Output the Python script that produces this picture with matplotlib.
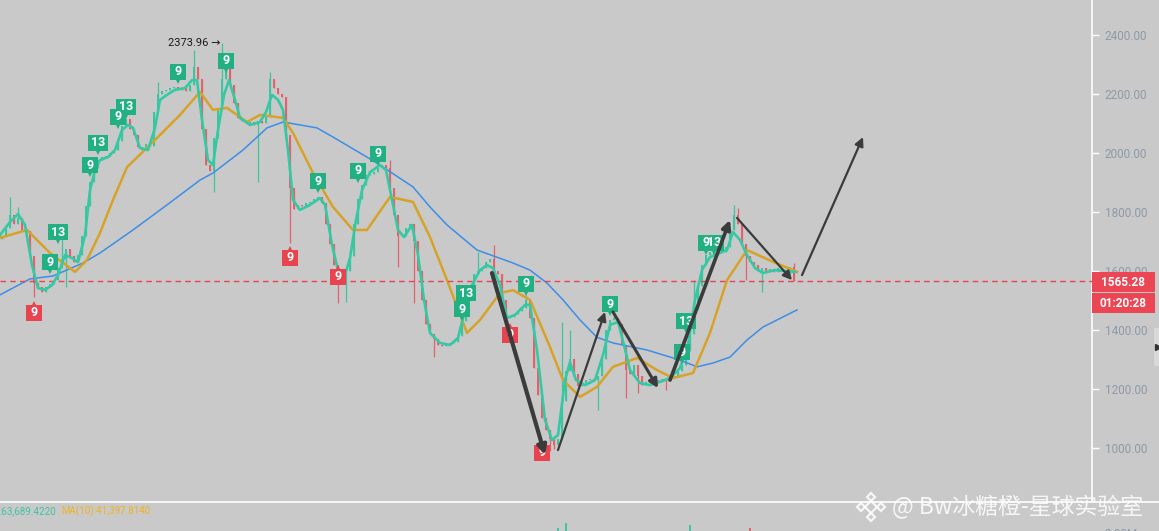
import matplotlib
matplotlib.use("Agg")
import matplotlib.pyplot as plt
from matplotlib import transforms
from matplotlib.patches import Rectangle
from matplotlib.path import Path

W, H = 1159, 531
BG = '#c9c9c9'
UP = '#3ec49e'
DOWN = '#e5606b'
BADGE_UP = '#22b083'
BADGE_DN = '#e8434f'

# ---- candle closes (open = previous close) ----
first_open = 1710
closes = [
    1720, 1745, 1790, 1760, 1780, 1740, 1735, 1650, 1560, 1545,
    1530, 1545, 1555, 1570, 1610, 1640, 1675, 1650, 1630, 1655,
    1720, 1820, 1900, 1950, 1975, 1985, 1990, 2000, 2010, 2040,
    2090, 2115, 2080, 2060, 2020, 2010, 2030, 2025, 2140, 2200,
    2210, 2215, 2220, 2225, 2215, 2220, 2210, 2230, 2290, 2250,
    2080, 1960, 1940, 2050, 2150, 2250, 2290, 2230, 2170, 2120,
    2110, 2100, 2105, 2095, 2110, 2100, 2130, 2250, 2220, 2200,
    2190, 2060, 1880, 1810, 1825, 1820, 1830, 1835, 1845, 1850,
    1830, 1760, 1690, 1620, 1590, 1570, 1600, 1650, 1760, 1845,
    1890, 1925, 1930, 1935, 1950, 1960, 1950, 1880, 1790, 1720,
    1720, 1745, 1760, 1700, 1600, 1500, 1420, 1385, 1370, 1350,
    1345, 1350, 1355, 1360, 1380, 1430, 1500, 1550, 1590, 1600,
    1610, 1630, 1640, 1600, 1590, 1500, 1440, 1445, 1455, 1465,
    1475, 1500, 1440, 1270, 1180, 1100, 1060, 1030, 1010, 1030,
    1160, 1260, 1300, 1250, 1210, 1220, 1230, 1235, 1230, 1245,
    1300, 1400, 1435, 1440, 1420, 1350, 1265, 1250, 1280, 1245,
    1215, 1225, 1220, 1230, 1225, 1235, 1230, 1240, 1245, 1260,
    1280, 1330, 1385, 1470, 1550, 1620, 1655, 1665, 1655, 1670,
    1665, 1680, 1740, 1790, 1760, 1690, 1650, 1630, 1620, 1600,
    1610, 1600, 1605, 1595, 1610, 1600, 1590, 1615, 1565.28,
]
# long wicks
wick_high = {2: 1850, 4: 1817, 15: 1728, 39: 2240, 48: 2349, 55: 2373.96,
             67: 2275, 97: 1976, 119: 1665, 123: 1688, 131: 1520, 140: 1428,
             142: 1400, 153: 1458, 173: 1569, 183: 1824, 184: 1813, 198: 1627}
wick_low = {8: 1512, 16: 1545, 53: 1868, 64: 1900, 72: 1695, 84: 1491,
            86: 1495, 99: 1613, 103: 1490, 108: 1310, 137: 990, 138: 995,
            149: 1130, 156: 1170, 159: 1185, 166: 1197, 186: 1569, 190: 1529}

# ---- moving averages (bar index, price) ----
ma_fast_x = [-0.5, 2, 4, 5.75, 7.5, 9, 10.75, 12.5, 14, 15.75,
             17.5, 19, 20.75, 22, 23.25, 24.5, 26.5, 28.25, 30, 31.5,
             32.75, 34.5, 36.5, 38.25, 39.5, 41.25, 43.25, 45.75, 47.5, 48.75,
             50, 51.5, 52.75, 54, 55.5, 56.75, 58.25, 59.5, 62, 64.5,
             66, 67.5, 69, 70.25, 71.5, 72.75, 74.5, 77, 79.5, 80.75,
             82.5, 84, 85.75, 87, 88.5, 90, 92, 94.5, 96, 97.5,
             99, 100.5, 102.5, 104, 105.5, 107, 109.5, 112, 114, 115.75,
             117.5, 119.5, 121.25, 122.75, 124.5, 126.25, 128.25, 130.75, 132, 133.75,
             135.75, 137.5, 139, 140.75, 142, 143.5, 145.75, 148.25, 150.25, 152,
             154, 155.5, 157, 159.5, 162, 164.5, 167, 169.5, 171.5, 173.25,
             175, 177, 179.5, 181.25, 182.75, 184.5, 186.25, 188.25, 190.25, 193.25,
             195.75, 198.25]
ma_fast = [1722, 1766, 1793, 1756, 1620, 1542, 1536, 1552, 1586, 1654,
           1644, 1630, 1720, 1874, 1942, 1976, 1986, 2010, 2078, 2095,
           2085, 2017, 2010, 2085, 2180, 2197, 2214, 2220, 2247, 2247,
           2112, 1976, 1959, 2078, 2197, 2247, 2180, 2119, 2095, 2105,
           2139, 2197, 2180, 2146, 2010, 1841, 1807, 1824, 1847, 1824,
           1688, 1603, 1586, 1644, 1773, 1874, 1935, 1959, 1942, 1841,
           1739, 1715, 1756, 1654, 1502, 1390, 1356, 1349, 1373, 1468,
           1552, 1603, 1620, 1610, 1552, 1441, 1451, 1485, 1485, 1332,
           1095, 1027, 1044, 1230, 1291, 1230, 1213, 1230, 1315, 1417,
           1427, 1349, 1264, 1220, 1213, 1224, 1237, 1271, 1349, 1502,
           1603, 1647, 1661, 1671, 1732, 1705, 1654, 1610, 1593, 1603,
           1600, 1597]

ma_mid_x = [-0.5, 6.25, 12, 18.25, 21.25, 24.5, 27.75, 31.25, 37.5, 44.5,
            49.5, 52.75, 56.25, 61.25, 64.5, 70.25, 72.75, 77.75, 82.75, 87.75,
            91.25, 97, 102.75, 107, 111.25, 116.25, 119.5, 124.5, 127.75, 132,
            137, 140.25, 144.5, 148.75, 152.75, 158.75, 163.75, 167.75, 172.75, 177,
            181.25, 186.25, 192.75, 198.75]
ma_mid = [1712, 1739, 1661, 1597, 1637, 1729, 1841, 1952, 2034, 2129,
          2207, 2146, 2153, 2105, 2129, 2119, 2068, 1932, 1817, 1739,
          1739, 1851, 1834, 1715, 1569, 1390, 1434, 1525, 1535, 1502,
          1342, 1230, 1173, 1207, 1275, 1305, 1264, 1237, 1254, 1390,
          1569, 1671, 1631, 1597]

ma_slow_x = [-0.5, 7, 12.75, 20.25, 24.5, 32.75, 41.25, 49.5, 52.75, 60.25,
             66.25, 70.25, 78.75, 82.75, 91.25, 94.5, 102.75, 107, 111.25, 118.75,
             127.75, 132, 136.25, 140.25, 144.5, 148.75, 152.75, 161.25, 169.5, 173.75,
             177.75, 182, 186.25, 190.25, 198.75]
ma_slow = [1519, 1573, 1583, 1627, 1661, 1739, 1824, 1908, 1932, 2010,
           2085, 2105, 2085, 2054, 1986, 1959, 1885, 1817, 1756, 1671,
           1627, 1603, 1559, 1502, 1434, 1375, 1356, 1332, 1298, 1275,
           1288, 1308, 1366, 1410, 1468]

# ---- TD count badges ----
badge_up_x = [12, 14, 22, 24, 29, 31, 44, 56, 79, 89, 94, 115, 116, 131, 152, 170, 171, 176, 178]
badge_up_y = [1630, 1732, 1959, 2034, 2122, 2156, 2275, 2312, 1905, 1939, 1997,
              1471, 1525, 1556, 1488, 1325, 1430, 1695, 1695]
badge_up_txt = ['9', '13', '9', '13', '9', '13', '9', '9', '9', '9', '9',
                '9', '13', '9', '9', '9', '13', '9', '13']
badge_dn_x = [8, 72, 84, 127, 135]
badge_dn_y = [1458, 1644, 1580, 1383, 983]
badge_dn_txt = ['9', '9', '9', '9', '9']

# ---- hand-drawn arrows ----
arrow_x0 = [122.5, 139, 152.75, 167, 183.75, 200]
arrow_y0 = [1593, 993, 1461, 1230, 1780, 1586]
arrow_x1 = [135.75, 150.75, 164, 182, 197.5, 215.25]
arrow_y1 = [976, 1461, 1203, 1773, 1569, 2054]
arrow_lw = [3.0, 1.6, 2.2, 2.6, 1.6, 1.6]

last_price = 1565.28
countdown = '01:20:28'
high_label = '2373.96'
yticks = [1000, 1200, 1400, 1600, 1800, 2000, 2200, 2400]

vol_x = [139, 141, 172, 187]
vol_m = [2.2, 2.36, 2.3, 2.2]

plt.rcParams['font.family'] = ['Roboto', 'DejaVu Sans']

fig = plt.figure(figsize=(W / 100, H / 100), dpi=100, facecolor=BG)
ax = fig.add_axes([0, 29 / H, 1092 / W, 502 / H], facecolor=BG)
ax.set_xlim(-0.5, 272.5)
ax.set_ylim(816.8, 2518.6)

opens = [first_open] + closes[:-1]
for i, (o, c) in enumerate(zip(opens, closes)):
    col = UP if c >= o else DOWN
    hi = wick_high.get(i, max(o, c))
    lo = wick_low.get(i, min(o, c))
    ax.vlines(i, lo, hi, color=col, lw=0.9, zorder=2)
    body = max(abs(c - o), 4)
    ax.bar(i, body, bottom=min(o, c), width=0.62, color=col, lw=0, zorder=2)

ax.plot(ma_slow_x, ma_slow, color='#3d8ee6', lw=1.1, zorder=3)
ax.plot(ma_mid_x, ma_mid, color='#d6a328', lw=1.8, zorder=3)
ax.plot(ma_fast_x, ma_fast, color='#34c9a4', lw=1.9, zorder=4)

ax.axhline(last_price, color='#e8434f', lw=1, ls=(0, (4, 3)), zorder=3)

# badges
wide = Path([(-1.2, -1), (1.2, -1), (1.2, 1), (-1.2, 1), (-1.2, -1)])


def badge(i, p, txt, col, below):
    shape, ms = ('s', 11.5) if len(txt) == 1 else (wide, 14)
    ax.plot(i, p, marker=shape, ms=ms, color=col, mew=0, zorder=7)
    off = transforms.offset_copy(ax.transData, fig=fig, y=(9 if below else -9), units='dots')
    ax.plot(i, p, marker=('^' if below else 'v'), ms=5, color=col, mew=0,
            transform=off, zorder=7)
    ax.text(i, p, txt, color='white', fontsize=9, fontweight='bold',
            ha='center', va='center', zorder=8)


for i, p, t in zip(badge_up_x, badge_up_y, badge_up_txt):
    badge(i, p, t, BADGE_UP, False)
for i, p, t in zip(badge_dn_x, badge_dn_y, badge_dn_txt):
    badge(i, p, t, BADGE_DN, True)

for x0, y0, x1, y1, lw in zip(arrow_x0, arrow_y0, arrow_x1, arrow_y1, arrow_lw):
    ax.annotate('', xy=(x1, y1), xytext=(x0, y0),
                arrowprops=dict(arrowstyle='-|>', color='#3b3b3b', lw=lw,
                                mutation_scale=13, shrinkA=0, shrinkB=0),
                zorder=9)

ax.text(54.5, 2373.96, high_label + ' \u2192', fontsize=8, color='#1a1a1a',
        ha='right', va='center', zorder=6)

ax.yaxis.tick_right()
ax.set_yticks(yticks)
ax.set_yticklabels([f'{v:.2f}' for v in yticks])
ax.tick_params(axis='y', color='white', labelcolor='#8e9aa6', length=5,
               width=1, pad=4, labelsize=8.5)
ax.set_xticks([])
for s in ['left', 'top', 'bottom']:
    ax.spines[s].set_visible(False)
ax.spines['right'].set_color('white')
ax.spines['right'].set_linewidth(1.2)

# volume panel (only the top is visible)
axv = fig.add_axes([0, (H - 600) / H, 1092 / W, 98 / H], facecolor='none')
axv.set_xlim(-0.5, 272.5)
axv.set_ylim(0, 3)
vcols = [UP if closes[i] >= opens[i] else DOWN for i in vol_x]
axv.bar(vol_x, vol_m, width=0.62, color=vcols, lw=0)
axv.axis('off')

# overlay in pixel coordinates
ov = fig.add_axes([0, 0, 1, 1], facecolor='none')
ov.set_xlim(0, W)
ov.set_ylim(H, 0)
ov.axis('off')
ov.axhline(502, color='white', lw=1.2)
ov.add_patch(Rectangle((1092, 272), 63, 20, color='#ec4655', lw=0))
ov.add_patch(Rectangle((1092, 293), 63, 20, color='#ec4655', lw=0))
ov.text(1123, 282.5, f'{last_price:.2f}', color='white', fontsize=8.5,
        fontweight='bold', ha='center', va='center')
ov.text(1123, 303.5, countdown, color='white', fontsize=8.5,
        fontweight='bold', ha='center', va='center')
ov.add_patch(Rectangle((1154, 328), 6, 38, color='#d9d9d9', lw=0))
ov.plot(1158, 347, marker='>', ms=4, color='#333333')
ov.text(-1, 511, ':63,689.4220', color='#3cc4a2', fontsize=7, va='center', ha='left')
ov.text(61, 511, 'MA(10):41,397.8140', color='#f0b321', fontsize=7, va='center', ha='left')
ov.text(1104, 535, '2.00M', color='#8e9aa6', fontsize=8.5, va='center', ha='left')

# watermark
for dx, dy, ms in [(0, 0, 6), (-10, 0, 4.5), (10, 0, 4.5), (0, -10, 4.5), (0, 10, 4.5)]:
    ov.plot(871 + dx, 507 + dy, marker='D', ms=ms, mfc='none', mec='white',
            mew=1.6, alpha=0.85)
ov.text(892, 507, '@ Bw冰糖橙-星球实验室', color='white', alpha=0.85, fontsize=16.5,
        va='center', ha='left', family=['Noto Sans CJK SC', 'DejaVu Sans'])

fig.savefig('out.png', dpi=100, facecolor=BG)
